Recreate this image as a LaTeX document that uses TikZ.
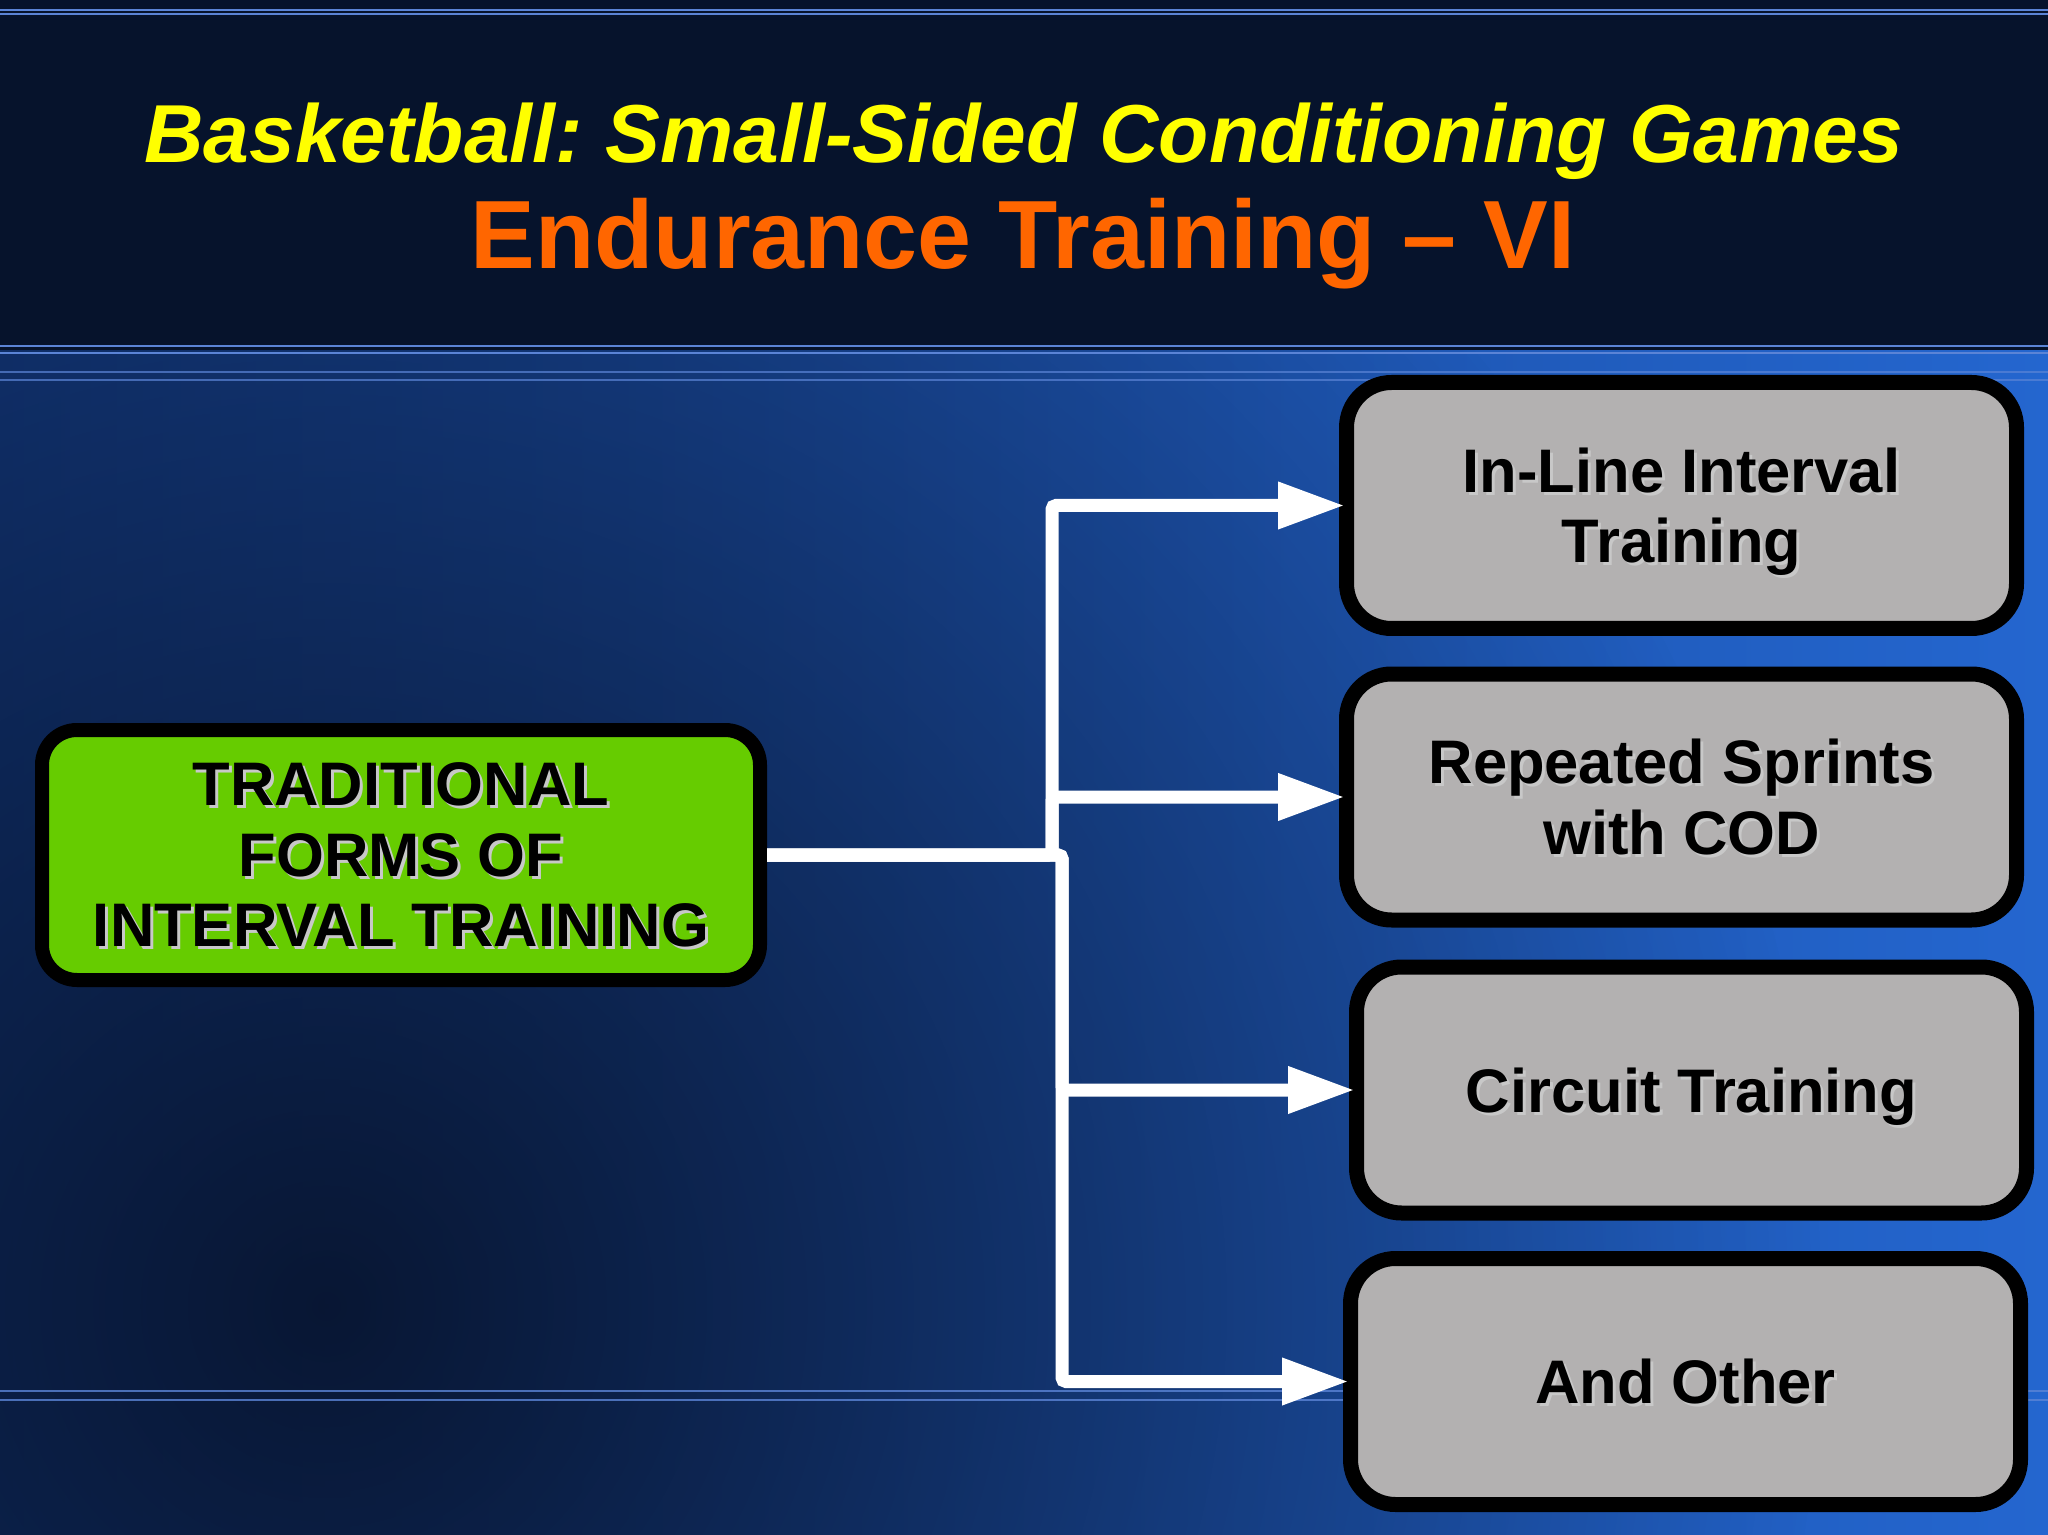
\documentclass[tikz,border=0pt]{standalone}
\usepackage{fontspec}
\setmainfont{Liberation Sans}
\usetikzlibrary{arrows.meta,fadings}
\frenchspacing
\definecolor{navy}{HTML}{06132C}
\definecolor{bgleft}{HTML}{133A80}
\definecolor{bgright}{HTML}{2466CF}
\definecolor{bgdark}{HTML}{07122A}
\definecolor{lineblue}{HTML}{5B84D6}
\definecolor{ttlyellow}{HTML}{FFFF00}
\definecolor{ttlorange}{HTML}{FF6600}
\definecolor{grn}{HTML}{66CC00}
\definecolor{gry}{HTML}{B3B1B1}
\definecolor{shd}{HTML}{C8C8C8}
\tikzfading[name=softglow, inner color=transparent!0, outer color=transparent!100]
\tikzset{
  gbox/.style={draw=black, line width=1.5mm, fill=gry, rounded corners=4.5mm,
    minimum width=67mm, minimum height=24.6mm, inner sep=0pt},
  boxtext/.style={font=\bfseries\fontsize{17.5}{20}\selectfont, align=center, inner sep=0pt, text=black},
  boxshadow/.style={boxtext, text=shd, xshift=0.3mm, yshift=-0.3mm},
  conn/.style={draw=white, line width=1.3mm, rounded corners=0.4mm, shorten >=-0.6mm,
    -{Triangle[length=6.7mm,width=4.4mm]}},
  deco/.style={lineblue, line width=0.25mm}
}
\begin{document}
\begin{tikzpicture}[x=0.1mm,y=-0.1mm]
\useasboundingbox (0,0) rectangle (2048,1535);
% background
\shade[left color=bgleft, right color=bgright] (0,350) rectangle (2048,1535);
\begin{scope}
  \clip (0,350) rectangle (2048,1535);
  \fill[bgdark, path fading=softglow, fit fading, opacity=0.9] (326,1306) circle (1500);
\end{scope}
\fill[navy] (0,0) rectangle (2048,350);
\draw[deco] (0,10) -- (2048,10);
\draw[deco] (0,14) -- (2048,14);
\draw[deco] (0,346) -- (2048,346);
\draw[deco] (0,353) -- (2048,353);
\draw[deco, opacity=0.7] (0,372) -- (2048,372);
\draw[deco, opacity=0.7] (0,380) -- (2048,380);
\draw[deco, opacity=0.8] (0,1391) -- (2048,1391);
\draw[deco, opacity=0.8] (0,1400) -- (2048,1400);
% titles
\node[font=\bfseries\itshape\fontsize{23.4}{28}\selectfont, text=ttlyellow, anchor=base, inner sep=0pt] (t1) at (1024,163) {Basketball: Small-Sided Conditioning Games};
\node[font=\bfseries\fontsize{27.6}{32}\selectfont, text=ttlorange, anchor=base, inner sep=0pt] (t2) at (1023,269) {Endurance Training – VI};
% boxes
\node[draw=black, line width=1.4mm, fill=grn, rounded corners=3.5mm, minimum width=71.8mm, minimum height=25mm, inner sep=0pt] (g) at (401,855) {};
\node[gbox] (b1) at (1681.5,505.5) {};
\node[gbox] (b2) at (1681.5,797) {};
\node[gbox] (b3) at (1691.5,1090) {};
\node[gbox] (b4) at (1685.5,1381.5) {};
% texts
\node[boxshadow] (gs) at (401,855) {TRADITIONAL\\FORMS OF\\INTERVAL TRAINING};
\node[boxtext] (gt) at (401,855) {TRADITIONAL\\FORMS OF\\INTERVAL TRAINING};
\node[boxshadow] (b1s) at (1681.5,511.5) {In-Line Interval\\Training};
\node[boxtext] (b1t) at (1681.5,511.5) {In-Line Interval\\Training};
\node[boxshadow] (b2s) at (1681.5,797) {Repeated Sprints\\with COD};
\node[boxtext] (b2t) at (1681.5,797) {Repeated Sprints\\with COD};
\node[boxshadow, anchor=base] (b3s) at (1691.5,1112) {Circuit Training};
\node[boxtext, anchor=base] (b3t) at (1691.5,1112) {Circuit Training};
\node[boxshadow, anchor=base] (b4s) at (1685.5,1403.5) {And Other};
\node[boxtext, anchor=base] (b4t) at (1685.5,1403.5) {And Other};
% connectors
\coordinate (j1) at (1052,855);
\coordinate (j2) at (1062,855);
\draw[conn] (g.east) -- (j1) |- (b1.west);
\draw[conn] (g.east) -- (j1) |- (b2.west);
\draw[conn] (g.east) -- (j2) |- (b3.west);
\draw[conn] (g.east) -- (j2) |- (b4.west);
\end{tikzpicture}
\end{document}
